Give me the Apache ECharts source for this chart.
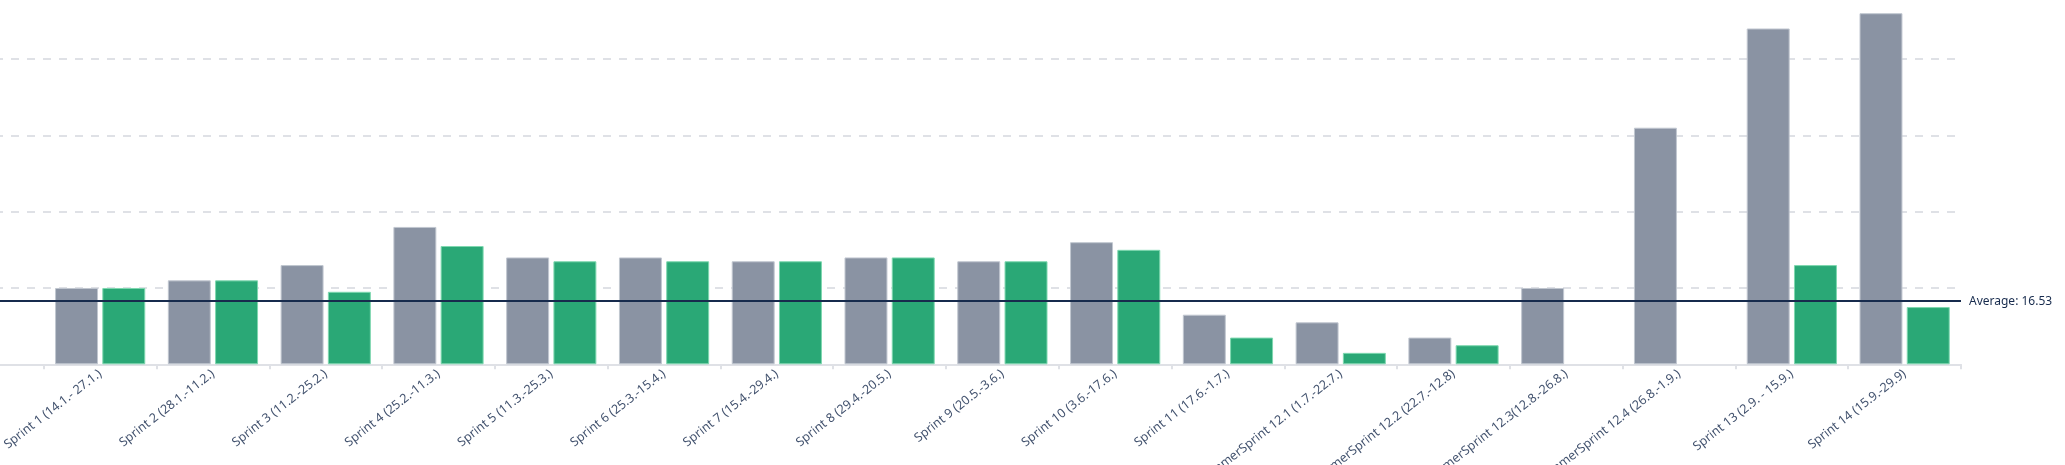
<!DOCTYPE html>
<html>
<head>
<meta charset="utf-8">
<title>Velocity</title>
<script src="https://cdn.jsdelivr.net/npm/echarts@6/dist/echarts.min.js"></script>
<style>
  html, body { margin: 0; padding: 0; background: #fff; }
  #chart { width: 2065px; height: 465px; }
</style>
</head>
<body>
<div id="chart"></div>
<script>
// leading '' is the sprint cut off at the left edge of the picture
const categories = [
  '',
  'Sprint 1 (14.1.- 27.1.)',
  'Sprint 2 (28.1.-11.2.)',
  'Sprint 3 (11.2.-25.2.)',
  'Sprint 4 (25.2.-11.3.)',
  'Sprint 5 (11.3.-25.3.)',
  'Sprint 6 (25.3.-15.4.)',
  'Sprint 7 (15.4.-29.4.)',
  'Sprint 8 (29.4.-20.5.)',
  'Sprint 9 (20.5.-3.6.)',
  'Sprint 10 (3.6.-17.6.)',
  'Sprint 11 (17.6.-1.7.)',
  'SummerSprint 12.1 (1.7.-22.7.)',
  'SummerSprint 12.2 (22.7.-12.8)',
  'SummerSprint 12.3(12.8.-26.8.)',
  'SummerSprint 12.4 (26.8.-1.9.)',
  'Sprint 13 (2.9. - 15.9.)',
  'Sprint 14 (15.9.-29.9)'
]
const commitment = [null, 20, 22, 26, 36, 28, 28, 27, 28, 27, 32, 13, 11, 7, 20, 62, 88, 92]
const completed = [null, 20, 22, 19, 31, 27, 27, 27, 28, 27, 30, 7, 3, 5, 0, 0, 26, 15]
const average = 16.53
const yTicks = { min: 0, max: 100, interval: 20 }

// zero bars get no outline, otherwise the border shows as a thin line
const noZeroBorder = arr => arr.map(v => v === 0 ? { value: 0, itemStyle: { borderWidth: 0 } } : v)

const chart = echarts.init(document.getElementById('chart'))

const option = {
  animation: false,
  grid: {
    left: -69,
    right: 104,
    top: -17.3,
    bottom: 100.7,
    containLabel: false,
    outerBoundsMode: 'none'
  },
  xAxis: {
    type: 'category',
    data: categories,
    axisLine: { lineStyle: { color: '#DFE1E6', width: 2 } },
    axisTick: { show: true, length: 5, lineStyle: { color: '#DFE1E6', width: 2 } },
    axisLabel: {
      rotate: 38,
      margin: 8,
      interval: 0,
      color: '#42526E',
      fontSize: 12.5,
      fontFamily: 'Noto Sans'
    }
  },
  yAxis: {
    type: 'value',
    min: yTicks.min,
    max: yTicks.max,
    interval: yTicks.interval,
    axisLine: { show: false },
    axisTick: { show: false },
    axisLabel: { show: false },
    splitLine: { lineStyle: { color: '#DFE1E6', width: 2, type: [8, 8] } }
  },
  series: [
    {
      name: 'Commitment',
      type: 'bar',
      data: noZeroBorder(commitment),
      barCategoryGap: '20%',
      barGap: '10%',
      itemStyle: { color: '#8A93A3', borderColor: '#C1C7D0', borderWidth: 1 }
    },
    {
      name: 'Completed',
      type: 'bar',
      data: noZeroBorder(completed),
      itemStyle: { color: '#2AA876', borderColor: '#7FD8B0', borderWidth: 1 },
      markLine: {
        silent: true,
        symbol: 'none',
        lineStyle: { color: '#172B4D', width: 2, type: 'solid' },
        label: {
          position: 'end',
          distance: 8,
          formatter: 'Average: ' + average,
          color: '#172B4D',
          fontSize: 12,
          fontFamily: 'Noto Sans'
        },
        data: [{ yAxis: average }]
      }
    }
  ]
}

chart.setOption(option)
</script>
</body>
</html>
